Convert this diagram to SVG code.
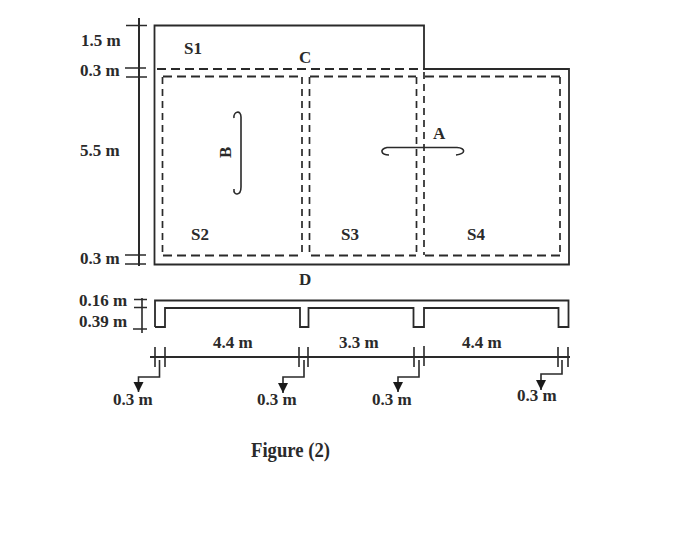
<svg xmlns="http://www.w3.org/2000/svg" width="700" height="541" viewBox="0 0 700 541">
<defs>
<marker id="arrow" markerWidth="10" markerHeight="11" refX="10" refY="5" orient="auto" markerUnits="userSpaceOnUse"><path d="M0 0L10 5L0 10Z" fill="#1a1a1a"/></marker>
</defs>
<style>
text{font-family:"Liberation Serif","Times New Roman",serif;font-weight:bold;font-size:17px;fill:#2a2a2a}
.s{fill:none;stroke:#2a2a2a;stroke-width:1.8}
.t{fill:none;stroke:#2a2a2a;stroke-width:1.6}
.d{fill:none;stroke:#2a2a2a;stroke-width:1.8;stroke-dasharray:9 5}
.v{fill:none;stroke:#2a2a2a;stroke-width:1.7;stroke-dasharray:7 5}
</style>
<rect width="700" height="541" fill="#fff"/>
<g id="plan-outline"><path class="s" d="M154.500 264.500V25.500H424V69H569V264.500Z"/></g>
<g id="slab-edges">
<path class="d" d="M157 69H424"/>
<path class="d" d="M163 76.500H302M310 76.500H416M425 76.500H560"/>
<path class="d" d="M163 255.500H302M311 255.500H416M425 255.500H560"/>
<path class="v" d="M162.500 77V255"/>
<path class="v" d="M302 77V255M309.500 77V255"/>
<path class="v" d="M416.500 77V255M424 72V255"/>
<path class="v" d="M560 77V255"/>
</g>
<g id="section-cuts">
<path class="t" d="M234 118C233 112 241 109 241 117V187C241 196 233 196 234 189"/>
<path class="t" d="M389 155C381 155 379 149 387 147.500H457C466 148 466 154 456 155"/>
</g>
<g id="section-profile">
<path class="s" d="M155 327V300.500H568.500V327H558.500V308H424V327H413.500V308H308.500V327H300V308H165V327H155"/>
</g>
<g id="connectors">
<path class="s" d="M139 18V266" style="stroke-width:2"/>
<path class="t" d="M126 25.500H147M125 68H146M126 77H147M125 255H146M125 264H146"/>
<path class="t" d="M142 298V333M134 299.500H147M134 307.500H147M133 329H147"/>
<path class="s" d="M150 357H570"/>
<path class="t" d="M155 347V367M165 347V367M299 347V367M308 347V367M414 347V367M424 346V366M558 347V367M568 347V367"/>
<path class="t" d="M159.500 360V377H138.500V392" marker-end="url(#arrow)"/>
<path class="t" d="M304 360V377H283V393" marker-end="url(#arrow)"/>
<path class="t" d="M419 360V377H398V392" marker-end="url(#arrow)"/>
<path class="t" d="M562 360V374H541V390" marker-end="url(#arrow)"/>
</g>
<g id="labels">
<text x="81" y="46">1.5 m</text>
<text x="80" y="76">0.3 m</text>
<text x="80" y="156">5.5 m</text>
<text x="80" y="264">0.3 m</text>
<text x="79" y="306">0.16 m</text>
<text x="79" y="327">0.39 m</text>
<text x="184" y="54">S1</text>
<text x="299" y="63">C</text>
<text x="191" y="240">S2</text>
<text x="341" y="240">S3</text>
<text x="467" y="240">S4</text>
<text x="299" y="285">D</text>
<text x="433" y="139">A</text>
<text transform="translate(231,158) rotate(-90)">B</text>
<text x="213" y="348">4.4 m</text>
<text x="339" y="348">3.3 m</text>
<text x="462" y="348">4.4 m</text>
<text x="113" y="405">0.3 m</text>
<text x="257" y="405">0.3 m</text>
<text x="372" y="405">0.3 m</text>
<text x="517" y="401">0.3 m</text>
<text x="251" y="457" style="font-size:20px" textLength="79" lengthAdjust="spacingAndGlyphs">Figure (2)</text>
</g>
</svg>
